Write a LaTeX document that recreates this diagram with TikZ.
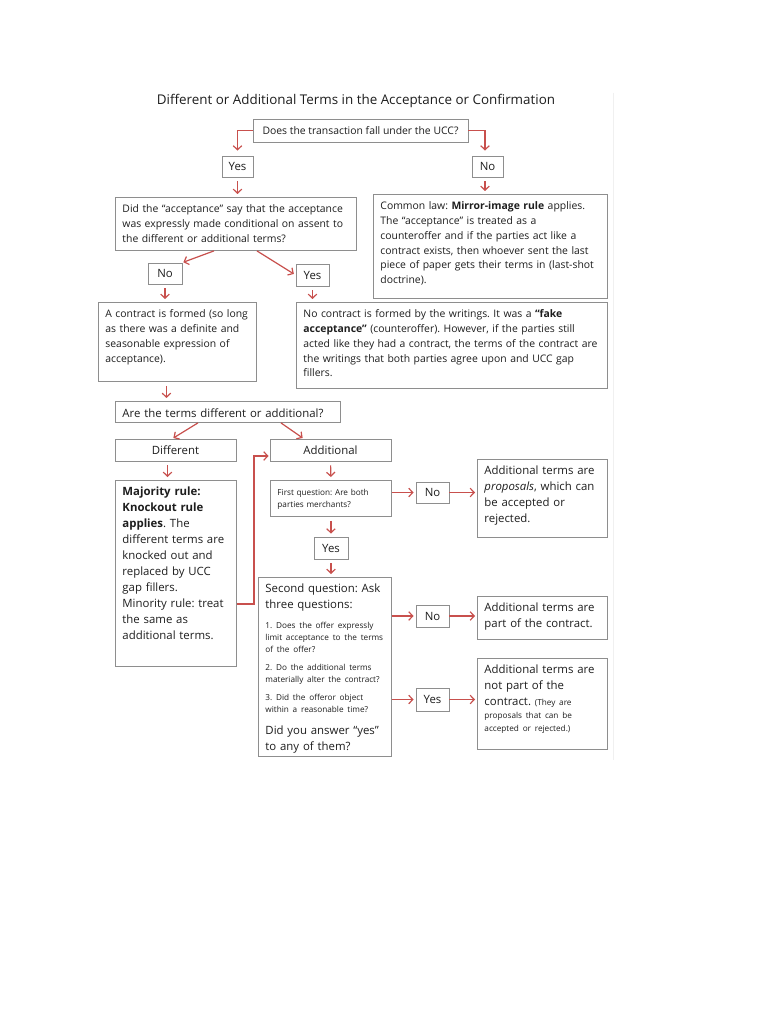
\documentclass[tikz,border=0pt]{standalone}
\usepackage{fontspec}
\setmainfont{Open Sans}
\usetikzlibrary{arrows.meta,calc,shadows}
\frenchspacing

\definecolor{flowred}{HTML}{C8504D}
\definecolor{flowgray}{HTML}{8E8E8E}
\definecolor{flowink}{HTML}{1E1E1E}

\newcommand{\titlesize}{\fontsize{13.4}{16}\selectfont}
\newcommand{\midsize}{\fontsize{10.4}{14.7}\selectfont}
\newcommand{\largesize}{\fontsize{11.4}{16}\selectfont}
\newcommand{\smallsize}{\fontsize{8.2}{12}\selectfont}

\tikzset{
  box/.style={draw=flowgray, fill=white, line width=0.9pt, anchor=north west,
    align=left, inner xsep=7pt, inner ysep=6pt, text height=9.5pt, text=flowink,
    drop shadow={opacity=0.35, shadow xshift=0.8pt, shadow yshift=-0.8pt}},
  tagbox/.style={draw=flowgray, fill=white, line width=0.9pt, inner sep=0pt,
    text=flowink, font=\largesize,
    drop shadow={opacity=0.35, shadow xshift=0.8pt, shadow yshift=-0.8pt}},
  link/.style={draw=flowred, line width=1.2pt, -{Straight Barb[length=4pt,width=8.5pt]}},
  dropline/.style={link, shorten <=4pt, shorten >=3pt},
  sideline/.style={link, shorten >=2pt}
}

\begin{document}
\begin{tikzpicture}[x=1pt,y=-1pt]
\useasboundingbox (0,0) rectangle (768,1024);
\fill[white] (0,0) rectangle (768,1024);
\draw[gray!12, line width=0.8pt] (613,93) -- (613,760);

% title and first question
\node[font=\titlesize, text=flowink] (title) at (356,101) {Different or Additional Terms in the Acceptance or Confirmation};
\node[tagbox, minimum width=215pt, minimum height=23pt, font=\midsize] (ucc) at (360.5,130.5) {Does the transaction fall under the UCC?};
\node[tagbox, minimum width=31pt, minimum height=21pt] (yes1) at (237.5,166.5) {Yes};
\node[tagbox, minimum width=31pt, minimum height=21pt] (no1) at (487.5,166.5) {No};

% second level
\node[box, text width=227pt, text depth=31.5pt, font=\midsize] (cond) at (115,197) {Did the “acceptance” say that the acceptance\\was expressly made conditional on assent to\\the different or additional terms?};
\node[box, text width=220pt, text depth=82.5pt, font=\midsize] (common) at (373,194) {Common law: \textbf{Mirror-image rule} applies.\\The “acceptance” is treated as a\\counteroffer and if the parties act like a\\contract exists, then whoever sent the last\\piece of paper gets their terms in (last-shot\\doctrine).};
\node[tagbox, minimum width=34pt, minimum height=21pt] (no2) at (165,273.5) {No};
\node[tagbox, minimum width=33pt, minimum height=22pt] (yes2) at (312.5,275) {Yes};
\node[box, text width=144pt, text depth=57.5pt, font=\midsize] (formed) at (98,302) {A contract is formed (so long\\as there was a definite and\\seasonable expression of\\acceptance).};
\node[box, text width=297pt, text depth=64.5pt, font=\midsize] (fake) at (296,302) {No contract is formed by the writings. It was a \textbf{“fake}\\\textbf{acceptance”} (counteroffer). However, if the parties still\\acted like they had a contract, the terms of the contract are\\the writings that both parties agree upon and UCC gap\\fillers.};

% different or additional
\node[box, inner ysep=5pt, text height=11pt, text depth=0pt, text width=211pt, font=\largesize] (kind) at (115,401) {Are the terms different or additional?};
\node[tagbox, minimum width=121pt, minimum height=22pt] (diff) at (175.5,450) {Different};
\node[tagbox, minimum width=121pt, minimum height=22pt] (addl) at (330.5,450) {Additional};
\node[box, text width=107pt, text depth=164.5pt, font=\largesize] (majority) at (115,480) {\textbf{Majority rule:}\\\textbf{Knockout rule}\\\textbf{applies}. The\\different terms are\\knocked out and\\replaced by UCC\\gap fillers.\\Minority rule: treat\\the same as\\additional terms.};
\node[box, text width=107pt, text depth=14.5pt, font=\smallsize] (merch) at (270,480) {First question: Are both\\parties merchants?};
\node[tagbox, minimum width=33pt, minimum height=21pt] (no3) at (432.5,492.5) {No};
\node[box, text width=116pt, text depth=56.5pt, font=\largesize] (proposals) at (477,459) {Additional terms are\\\textit{proposals}, which can\\be accepted or\\rejected.};
\node[tagbox, minimum width=34pt, minimum height=22pt] (yes3) at (331,548) {Yes};

% second question
\node[box, text width=119pt, text depth=157.5pt, font=\largesize] (second) at (258,577) {Second question: Ask\\three questions:\par
  \vspace{8pt}{\smallsize 1. Does the offer expressly\\limit acceptance to the terms\\of the offer?\par}
  \vspace{6pt}{\smallsize 2. Do the additional terms\\materially alter the contract?\par}
  \vspace{6pt}{\smallsize 3. Did the offeror object\\within a reasonable time?\par}
  \vspace{6pt}Did you answer “yes”\\to any of them?};
\node[tagbox, minimum width=33pt, minimum height=22pt] (no4) at (432.5,616) {No};
\node[box, text width=116pt, text depth=21.5pt, font=\largesize] (partof) at (477,596) {Additional terms are\\part of the contract.};
\node[tagbox, minimum width=33pt, minimum height=23pt] (yes4) at (432.5,699.5) {Yes};
\node[box, text width=116pt, text depth=69.5pt, font=\largesize] (notpart) at (477,658) {Additional terms are\\not part of the\\contract. {\smallsize (They are}\\[-3pt]{\smallsize proposals that can be}\\[-3pt]{\smallsize accepted or rejected.)}};

% connectors
\draw[link, shorten >=5pt] (ucc.west) -| (yes1.north);
\draw[link, shorten >=5pt] (ucc.east) -| ($(no1.north)+(-2.5,0)$);
\draw[dropline] (yes1.south) -- (yes1.south |- cond.north);
\draw[dropline] ($(no1.south)+(-2.5,0)$) -- ($(no1.south |- common.north)+(-2.5,0)$);
\draw[link, shorten >=1pt] ($(cond.south)+(-22,0)$) -- (no2.north east);
\draw[link, shorten >=2pt] ($(cond.south)+(21,0)$) -- (yes2.west);
\draw[dropline] (no2.south) -- (no2.south |- formed.north);
\draw[dropline] (yes2.south) -- (yes2.south |- fake.north);
\draw[dropline] ($(formed.south)+(-11,0)$) -- ($(formed.south |- kind.north)+(-11,0)$);
\draw[link, shorten >=1pt] ($(kind.south)+(-30,0)$) -- ($(diff.north)+(-3,0)$);
\draw[link, shorten >=1pt] ($(kind.south)+(53,0)$) -- ($(addl.north)+(-27,0)$);
\draw[dropline] ($(diff.south)+(-8,0)$) -- ($(diff.south |- majority.north)+(-8,0)$);
\draw[link, shorten >=1pt] ($(majority.north east)+(0,124)$) -- ++(17,0) |- ($(addl.west)+(0,6)$);
\draw[dropline] (addl.south) -- (merch.north);
\draw[sideline] (merch.east |- no3) -- (no3.west);
\draw[sideline] (no3.east) -- (no3.east -| proposals.west);
\draw[dropline] (merch.south) -- (merch.south |- yes3.north);
\draw[dropline] (yes3.south) -- (yes3.south |- second.north);
\draw[sideline] (second.east |- no4) -- (no4.west);
\draw[sideline] (no4.east) -- (no4.east -| partof.west);
\draw[sideline] (second.east |- yes4) -- (yes4.west);
\draw[sideline] (yes4.east) -- (yes4.east -| notpart.west);
\end{tikzpicture}
\end{document}
